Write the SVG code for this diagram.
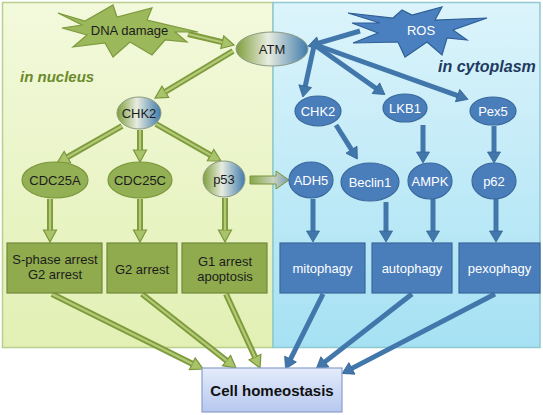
<svg xmlns="http://www.w3.org/2000/svg" width="543" height="415" viewBox="0 0 543 415">
<defs>
<linearGradient id="lp" x1="0" y1="0" x2="0" y2="1"><stop offset="0" stop-color="#f3f9dc"/><stop offset="1" stop-color="#e2f0b4"/></linearGradient>
<linearGradient id="rp" x1="0" y1="0" x2="0" y2="1"><stop offset="0" stop-color="#dcf4fb"/><stop offset="1" stop-color="#a6e1f3"/></linearGradient>
<linearGradient id="mix" x1="0" y1="0" x2="1" y2="0"><stop offset="0" stop-color="#7f9e3c"/><stop offset="0.45" stop-color="#e8ece0"/><stop offset="1" stop-color="#3f7bab"/></linearGradient>
<linearGradient id="cell" x1="0" y1="0" x2="0" y2="1"><stop offset="0" stop-color="#e4ecfb"/><stop offset="1" stop-color="#b6c8ef"/></linearGradient>
<linearGradient id="pa" x1="0" y1="0" x2="1" y2="0"><stop offset="0" stop-color="#8aa84a"/><stop offset="0.6" stop-color="#c9d3bf"/><stop offset="1" stop-color="#7a9ab0"/></linearGradient>
<marker id="ga" markerUnits="userSpaceOnUse" markerWidth="16" markerHeight="18" viewBox="-1 -9 16 18" refX="0" refY="0" orient="auto"><path d="M0,-6.5 L12,0 L0,6.5 z" fill="#a9c36a" stroke="#7a963a" stroke-width="1.2"/></marker>
<marker id="ba" markerUnits="userSpaceOnUse" markerWidth="16" markerHeight="18" viewBox="-1 -9 16 18" refX="0" refY="0" orient="auto"><path d="M0,-6.5 L11,0 L0,6.5 z" fill="#4277ac" stroke="#356595" stroke-width="0.8"/></marker>
<style>
text{font-family:"Liberation Sans",Arial,sans-serif;font-size:13px;text-anchor:middle}
.gn{fill:#93b054;stroke:#7a963a;stroke-width:1.2}
.gb{fill:#8fab4e;stroke:#70893a;stroke-width:1.2}
.mx{fill:url(#mix);stroke:#8d9a84;stroke-width:1}
.bn{fill:#4a7ebb;stroke:#3a689c;stroke-width:1.2}
.bb{fill:#4a7ebb;stroke:#3a689c;stroke-width:1.2}
.dk{fill:#1c1c1c}
.wt{fill:#ffffff}
.go{fill:none;stroke:#7f9b3c;stroke-width:6;marker-end:url(#ga)}
.gi{fill:none;stroke:#b3cb78;stroke-width:2.2}
.bl{fill:none;stroke:#4277ac;stroke-width:5;marker-end:url(#ba)}
</style>
</defs>
<g id="panels">
<rect x="2.5" y="2.5" width="270.5" height="345" fill="url(#lp)" stroke="#b9cf8c" stroke-width="1.5"/>
<rect x="273" y="2.5" width="267" height="345" fill="url(#rp)" stroke="#8ec9cf" stroke-width="1.5"/>
<text x="20" y="82" style="font-size:15px;font-weight:bold;font-style:italic;text-anchor:start;fill:#6b8a2a">in nucleus</text>
<text x="438" y="72" style="font-size:16px;font-weight:bold;font-style:italic;text-anchor:start;fill:#1f3a5f">in cytoplasm</text>
</g>
<g id="connectors">
<g>
<path class="go" d="M188,34 L222.3,42.2"/><path class="gi" d="M188,34 L222.3,42.2"/>
<path class="go" d="M233,51 L165.3,91.8"/><path class="gi" d="M233,51 L165.3,91.8"/>
<path class="go" d="M122,126 L67.4,157.1"/><path class="gi" d="M122,126 L67.4,157.1"/>
<path class="go" d="M140,130 L140,150"/><path class="gi" d="M140,130 L140,150"/>
<path class="go" d="M156,124 L210.6,155.1"/><path class="gi" d="M156,124 L210.6,155.1"/>
<path class="go" d="M50,199 L50,230"/><path class="gi" d="M50,199 L50,230"/>
<path class="go" d="M140,199 L140,230"/><path class="gi" d="M140,199 L140,230"/>
<path class="go" d="M225,198 L225,230"/><path class="gi" d="M225,198 L225,230"/>
<path class="go" d="M52,294 L192.3,363.7"/><path class="gi" d="M52,294 L192.3,363.7"/>
<path class="go" d="M142,294 L226.6,360.6"/><path class="gi" d="M142,294 L226.6,360.6"/>
<path class="go" d="M226,294 L255,357.1"/><path class="gi" d="M226,294 L255,357.1"/>
</g>
<polygon points="250,176 276,176 276,171 289,180 276,189 276,184 250,184" fill="url(#pa)" stroke="#7a963a" stroke-width="1"/>
<g>
<path class="bl" d="M360,31 L318.6,43.2"/>
<path class="bl" d="M314,46 L305.2,86.2"/>
<path class="bl" d="M316,46 L375.9,88.2"/>
<path class="bl" d="M316,45 L457.6,95.6"/>
<path class="bl" d="M336,125 L351.5,149.7"/>
<path class="bl" d="M423,125 L423,152"/>
<path class="bl" d="M494,126 L494,152"/>
<path class="bl" d="M313,199 L313,231"/>
<path class="bl" d="M386,202 L386,231"/>
<path class="bl" d="M433,199 L433,231"/>
<path class="bl" d="M496,199 L496,231"/>
<path class="bl" d="M323,294 L290.5,359.1"/>
<path class="bl" d="M412,294 L324.9,361.9"/>
<path class="bl" d="M495,294 L351.9,368.4"/>
</g>
</g>
<g id="dna-damage">
<polygon points="58,13 85,21 113,5 117,17 152,8 147,20 198,32 175,32 187,42 165,40 152,55 130,42 113,57 105,43 73,47 87,35 62,28 82,25" fill="#9bb85a" stroke="#7e9a3e" stroke-width="1.2" stroke-linejoin="miter"/>
<text class="dk" x="129.5" y="35">DNA damage</text>
</g>
<g id="ros">
<polygon points="348,13 393,18 402,10 412,15 442,7 435,20 487,18 453,30 467,40 447,38 442,55 427,42 405,57 398,42 353,43 378,33 352,23 380,23" fill="#4a80c0" stroke="#2f5f95" stroke-width="1.2"/>
<text class="wt" x="421" y="35">ROS</text>
</g>
<g id="atm"><ellipse class="mx" cx="272" cy="49" rx="36" ry="17"/><text class="dk" x="272" y="53.5">ATM</text></g>
<g id="chk2-n"><ellipse class="mx" cx="139" cy="113" rx="22" ry="16"/><text class="dk" x="139" y="117.5">CHK2</text></g>
<g id="cdc25a"><ellipse class="gn" cx="55" cy="180" rx="33" ry="18"/><text class="dk" x="55" y="184.5">CDC25A</text></g>
<g id="cdc25c"><ellipse class="gn" cx="140" cy="180" rx="32" ry="18"/><text class="dk" x="140" y="184.5">CDC25C</text></g>
<g id="p53"><ellipse class="mx" cx="224" cy="179" rx="21" ry="18"/><text class="dk" x="224" y="183.5">p53</text></g>
<g id="box-s"><rect class="gb" x="7" y="243" width="95" height="50"/><text class="dk" x="55" y="264">S-phase arrest</text><text class="dk" x="55" y="279">G2 arrest</text></g>
<g id="box-g2"><rect class="gb" x="107" y="243" width="70" height="50"/><text class="dk" x="142" y="274">G2 arrest</text></g>
<g id="box-g1"><rect class="gb" x="182" y="243" width="85" height="50"/><text class="dk" x="225" y="266">G1 arrest</text><text class="dk" x="225" y="281">apoptosis</text></g>
<g id="chk2-c"><ellipse class="bn" cx="318" cy="111" rx="23" ry="15"/><text class="wt" x="318" y="115.5">CHK2</text></g>
<g id="lkb1"><ellipse class="bn" cx="405" cy="108" rx="22" ry="14"/><text class="wt" x="405" y="112.5">LKB1</text></g>
<g id="pex5"><ellipse class="bn" cx="493" cy="111" rx="23" ry="14"/><text class="wt" x="493" y="115.5">Pex5</text></g>
<g id="adh5"><ellipse class="bn" cx="311" cy="180" rx="22" ry="18"/><text class="wt" x="311" y="184.5">ADH5</text></g>
<g id="beclin1"><ellipse class="bn" cx="370" cy="182" rx="29" ry="19"/><text class="wt" x="370" y="186.5">Beclin1</text></g>
<g id="ampk"><ellipse class="bn" cx="430" cy="181" rx="22" ry="18"/><text class="wt" x="430" y="185.5">AMPK</text></g>
<g id="p62"><ellipse class="bn" cx="494" cy="181" rx="22" ry="18"/><text class="wt" x="494" y="185.5">p62</text></g>
<g id="mitophagy"><rect class="bb" x="280" y="243" width="85" height="50"/><text class="wt" x="322.5" y="273">mitophagy</text></g>
<g id="autophagy"><rect class="bb" x="372" y="243" width="80" height="50"/><text class="wt" x="412" y="273">autophagy</text></g>
<g id="pexophagy"><rect class="bb" x="459" y="243" width="81" height="50"/><text class="wt" x="499.5" y="273">pexophagy</text></g>
<g id="cell-homeostasis"><rect x="202" y="368" width="140" height="44" fill="url(#cell)" stroke="#8a9fc8" stroke-width="1.2"/><text x="272" y="396" style="font-size:15px;font-weight:bold;fill:#111">Cell homeostasis</text></g>
</svg>
